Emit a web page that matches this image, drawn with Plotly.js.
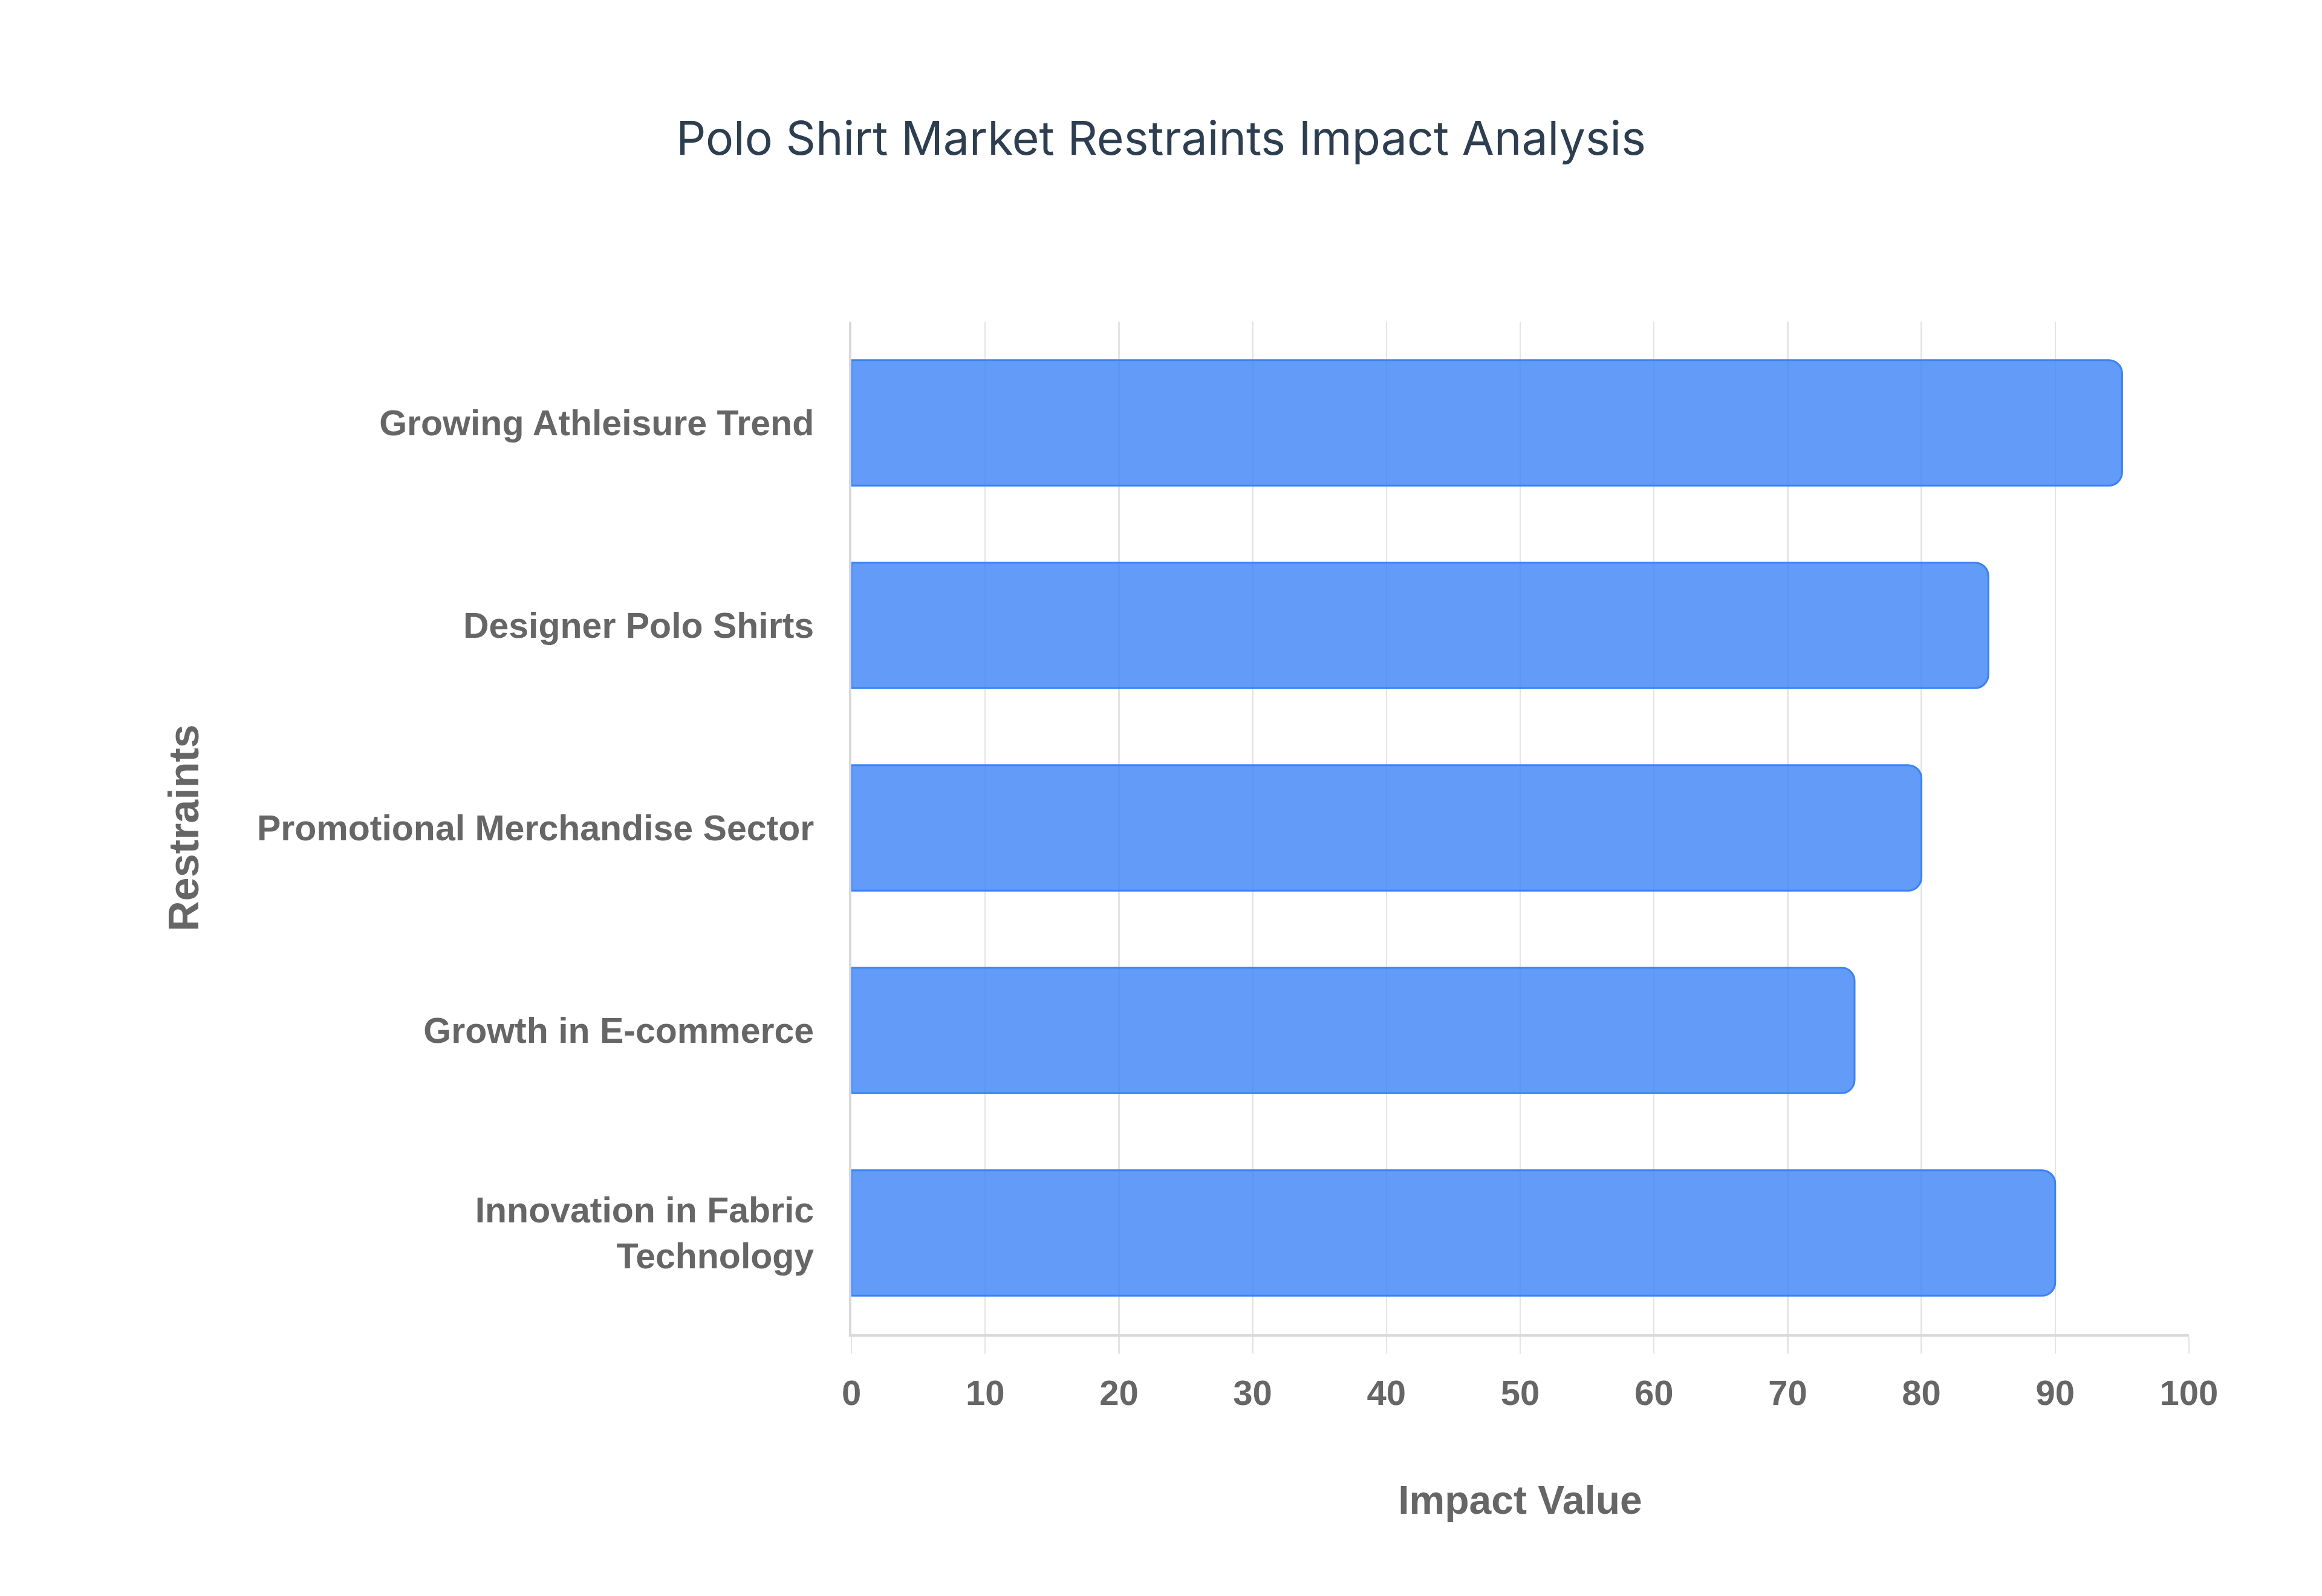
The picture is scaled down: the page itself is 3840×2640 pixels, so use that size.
<!DOCTYPE html>
<html>
<head>
<meta charset="utf-8">
<script src="https://cdn.plot.ly/plotly-3.0.1.min.js"></script>
<style>
  html, body { margin: 0; padding: 0; background: #fff; }
  #chart { width: 3840px; height: 2640px; }
</style>
</head>
<body>
<div id="chart"></div>
<script>
// restraints, top to bottom
let restraints = [
    'Growing Athleisure Trend',
    'Designer Polo Shirts',
    'Promotional Merchandise Sector',
    'Growth in E-commerce',
    'Innovation in Fabric<br>Technology'
]
let impactValues = [95, 85, 80, 75, 90]
let xTickValues = [0, 10, 20, 30, 40, 50, 60, 70, 80, 90, 100]

let labelFont = 'Liberation Sans, Arial, Helvetica, sans-serif'
let gridColor = '#e4e4e4'

let bars = {
    type: 'bar',
    orientation: 'h',
    x: impactValues,
    y: restraints,
    marker: {
        color: 'rgba(59, 130, 246, 0.8)',
        line: { color: '#3b82f6', width: 3 },
        cornerradius: 22
    },
    hoverinfo: 'x+y'
}

let layout = {
    width: 3840,
    height: 2640,
    paper_bgcolor: '#ffffff',
    plot_bgcolor: '#ffffff',
    margin: { l: 1408, r: 220, t: 532, b: 433, pad: 0 },
    bargap: 0.38,
    showlegend: false,
    title: {
        text: 'Polo Shirt Market Restraints Impact Analysis',
        font: { family: 'Inter, Noto Sans, sans-serif', size: 77, color: '#2c3e50' },
        x: 0.5,
        xanchor: 'center',
        y: 1 - 229 / 2640,
        yanchor: 'middle'
    },
    xaxis: {
        range: [0, 100],
        tickvals: xTickValues,
        ticktext: xTickValues.map(String),
        showgrid: true,
        gridcolor: gridColor,
        gridwidth: 2.5,
        zeroline: false,
        showline: true,
        linecolor: '#d9d9d9',
        linewidth: 4,
        ticks: 'outside',
        ticklen: 28,
        tickwidth: 2.5,
        tickcolor: gridColor,
        ticklabelstandoff: 15,
        tickfont: { family: labelFont, size: 58, color: '#666666', weight: 'bold' },
        title: {
            text: 'Impact Value',
            font: { family: labelFont, size: 66, color: '#666666', weight: 'bold' },
            standoff: 124
        },
        fixedrange: true
    },
    yaxis: {
        autorange: 'reversed',
        showgrid: false,
        zeroline: false,
        showline: true,
        linecolor: '#d9d9d9',
        linewidth: 4,
        ticks: '',
        ticklabelstandoff: 46,
        tickfont: { family: labelFont, size: 59, color: '#666666', weight: 'bold' },
        title: {
            text: 'Restraints',
            font: { family: labelFont, size: 70, color: '#666666', weight: 'bold' },
            standoff: 74
        },
        automargin: false,
        fixedrange: true
    }
}

Plotly.newPlot('chart', [bars], layout, { displayModeBar: false, staticPlot: true })
</script>
</body>
</html>
